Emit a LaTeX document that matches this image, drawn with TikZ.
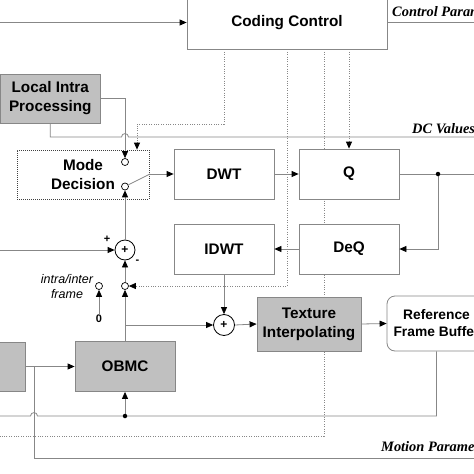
\documentclass[tikz,border=0pt]{standalone}
\usepackage{fontspec}
\setmainfont{Liberation Serif}
\setsansfont{Liberation Sans}
\usetikzlibrary{arrows.meta}
\definecolor{linec}{RGB}{135,135,135}
\definecolor{boxfill}{RGB}{192,192,192}
\begin{document}
\begin{tikzpicture}[x=1pt,y=-1pt,
  blk/.style={draw=linec,line width=0.8pt,fill=white,minimum width=100pt,minimum height=50pt,inner sep=0pt,align=center,font=\sffamily\bfseries\fontsize{15.3}{19}\selectfont},
  gblk/.style={blk,fill=boxfill},
  ln/.style={draw=linec,line width=0.8pt},
  arr/.style={ln,-{Triangle[length=7pt,width=6pt,color=black]}},
  dotl/.style={draw=linec,line width=0.8pt,dash pattern=on 1pt off 1.4pt},
  darr/.style={dotl,-{Triangle[length=7pt,width=6pt,color=black]}},
  swc/.style={circle,draw=black,line width=0.7pt,fill=white,minimum size=7pt,inner sep=0pt},
  adder/.style={circle,draw=black,line width=0.8pt,fill=white,minimum size=20pt,inner sep=0pt,font=\sffamily\bfseries\fontsize{12}{12}\selectfont},
  lbl/.style={font=\bfseries\itshape\fontsize{14.4}{16}\selectfont,anchor=west,inner sep=0pt},
  small/.style={font=\sffamily\bfseries\fontsize{11}{11}\selectfont,inner sep=0pt},
  dotn/.style={circle,fill=black,minimum size=4.5pt,inner sep=0pt},
]
\useasboundingbox (0,0) rectangle (474,474);
\fill[white] (0,0) rectangle (474,474);
\clip (0,0) rectangle (474,474);

% Coding control
\node[blk,minimum width=200pt,minimum height=53pt] (cc) at (287,22.5) {Coding Control};

% dotted line passing behind boxes
\coordinate (c1) at (324,436);
\coordinate (c2) at (0,436);
\draw[dotl] (cc.south -| c1) -- (c1) -- (c2);

% blocks
\node[gblk,minimum width=99.5pt,minimum height=49pt] (lip) at (50.25,98.5) {Local Intra\\Processing};
\node[blk,draw=black!75,dash pattern=on 1pt off 1pt,minimum width=132pt,minimum height=49pt] (md) at (83,174.5) {Mode\\Decision};
\node[blk] (dwt) at (224,174) {DWT};
\node[blk] (q) at (349,174) {Q};
\node[blk] (deq) at (349,249) {DeQ};
\node[blk] (idwt) at (224,249) {IDWT};
\node[gblk,minimum width=104pt,minimum height=54pt] (tex) at (309,324) {Texture\\Interpolating};
\node[blk,rounded corners=8pt,minimum width=99pt,minimum height=55pt,font=\sffamily\bfseries\fontsize{13.8}{17}\selectfont] (rfb) at (436.5,323.5) {Reference\\Frame Buffer};
\node[gblk] (obmc) at (125,366.5) {OBMC};
\node[gblk,minimum width=65pt,minimum height=49pt] (lb) at (-7.5,366.5) {};

% switches and adders
\node[swc] (s1) at (125,162) {};
\node[swc] (s2) at (125,186.5) {};
\node[swc] (s3) at (99,286) {};
\node[swc] (s4) at (125,286) {};
\node[adder] (add1) at (125,250) {+};
\node[adder,minimum size=21pt] (add2) at (224,325) {+};

% labels
\node[lbl] (cpl) at (392,12) {Control Parameters};
\node[lbl] (dcl) at (412,128.5) {DC Values};
\node[lbl] (mpl) at (381,447) {Motion Parameters};
\node[small] (plus) at (107,239.5) {+};
\node[small] (minus) at (137.5,262) {-};
\node[small] (zero) at (99,319) {0};
\node[font=\sffamily\itshape\fontsize{12.5}{15}\selectfont,align=center,inner sep=0pt] (ii) at (67,286.5) {intra/inter\\frame};

% connectors
\coordinate (in1) at (0,22.5);
\coordinate (cpout) at (474,22.5);
\draw[arr] (in1) -- (cc.west);
\draw[ln] (cc.east) -- (cpout);

\coordinate (a1) at (224,124);
\coordinate (a2) at (137,124);
\draw[darr] (cc.south -| a1) -- (a1) -- (a2) -- (md.north -| a2);

\coordinate (b1) at (287,286);
\draw[darr] (cc.south -| b1) -- (b1) -- (s4.east);

\draw[darr] (cc.south -| q.north) -- (q.north);

% DC values line with hop
\coordinate (dc1) at (50,137);
\coordinate (dc2) at (474,137);
\draw[ln] (lip.south) -- (lip.south |- dc1) -- (121.5,137) .. controls (121.5,132.5) and (128.5,132.5) .. (128.5,137) -- (dc2);

\coordinate (l1) at (125,98.5);
\draw[arr] (lip.east) -- (l1) -- (s1.north);

% mode switch
\coordinate (swp) at (150,174);
\draw[ln] (s2.26) -- (swp);
\draw[arr] (swp) -- (dwt.west);

\draw[arr] (dwt.east) -- (q.west);
\coordinate (j1) at (438,174);
\coordinate (qo) at (474,174);
\draw[ln] (q.east) -- (qo);
\draw[arr] (j1) |- (deq.east);
\node[dotn] (j1d) at (j1) {};

\draw[arr] (deq.west) -- (idwt.east);
\draw[arr] (idwt.south) -- (add2.north);

\coordinate (in2) at (0,250);
\draw[arr] (in2) -- (add1.west);
\draw[arr] (add1.north) -- (s2.south);
\draw[arr] (s4.north) -- (add1.south);
\draw[arr] (zero.north) -- (s3.south);
\draw[arr] (obmc.north) -- (s4.south);

\coordinate (br) at (125,325);
\draw[arr] (br) -- (add2.west);
\draw[arr] (add2.east) -- (tex.west);
\draw[arr] (tex.east) -- (rfb.west);

\coordinate (r1) at (436.5,416);
\coordinate (r2) at (0,416);
\draw[ln] (rfb.south) -- (r1) -- (37.5,416) .. controls (37.5,411.5) and (30.5,411.5) .. (30.5,416) -- (r2);
\coordinate (j2) at (125,416);
\draw[arr] (j2) -- (obmc.south);
\node[dotn] (j2d) at (j2) {};

\coordinate (m0) at (34,366.5);
\coordinate (m1) at (34,458);
\coordinate (m2) at (474,458);
\draw[arr] (lb.east) -- (obmc.west);
\draw[ln] (m0) -- (m1) -- (m2);
\end{tikzpicture}
\end{document}
